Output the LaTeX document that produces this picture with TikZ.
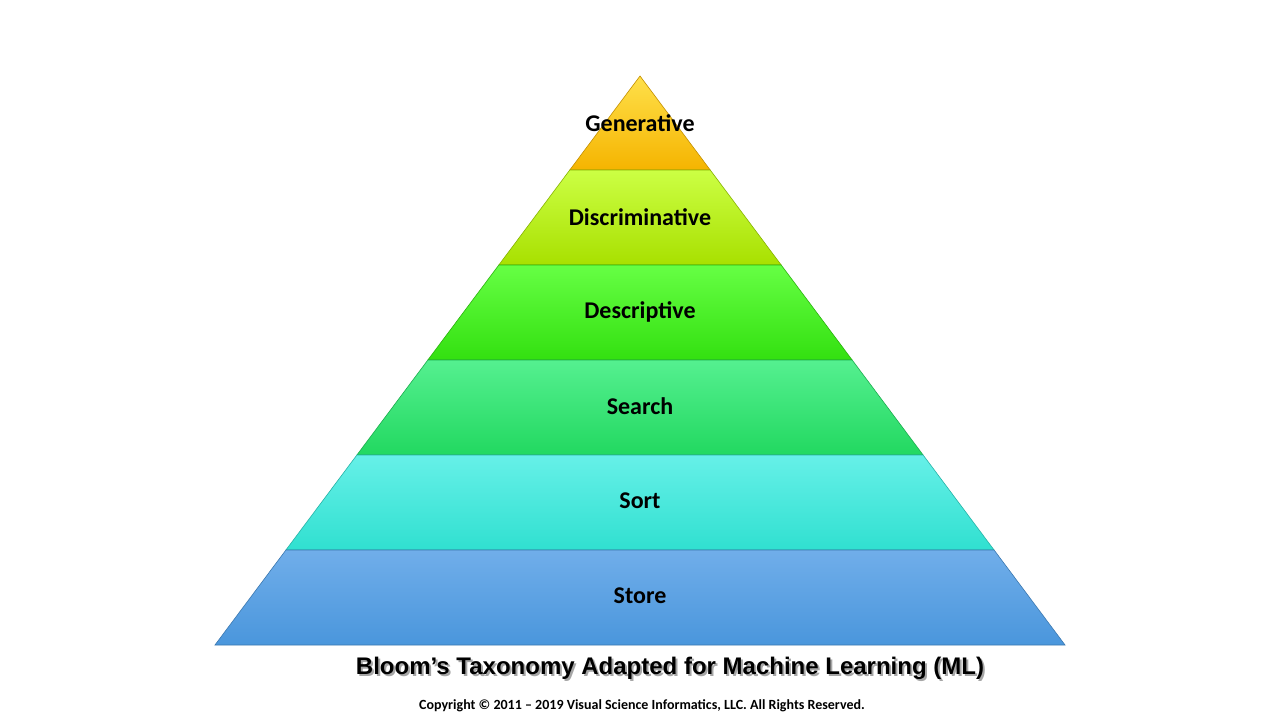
\documentclass[tikz,border=0pt]{standalone}
\usepackage{fontspec}
\setmainfont{Carlito}
\newfontfamily\titlefont{Liberation Sans}
\begin{document}
\begin{tikzpicture}[x=1pt,y=-1pt,
  lbl/.style={font=\bfseries\fontsize{24}{28}\selectfont, text=black}]
\useasboundingbox (0,0) rectangle (1280,720);
\fill[white] (0,0) rectangle (1280,720);
% layers: top y, bottom y, colours
\def\lay#1#2#3#4#5{%
  \pgfmathsetmacro\xa{640-0.747*(#1-76)}\pgfmathsetmacro\xb{640+0.747*(#1-76)}%
  \pgfmathsetmacro\xc{640+0.747*(#2-76)}\pgfmathsetmacro\xd{640-0.747*(#2-76)}%
  \shade[top color=#3, bottom color=#4, draw=#4!80!black, line width=0.6pt]
    (\xa,#1) -- (\xb,#1) -- (\xc,#2) -- (\xd,#2) -- cycle;
  \node[lbl] (#5) at (640,{(#1+#2)/2+2}) {};}
\definecolor{g1}{HTML}{FFE04A}\definecolor{g2}{HTML}{F5B400}
\definecolor{d1}{HTML}{CCFF44}\definecolor{d2}{HTML}{A8E000}
\definecolor{e1}{HTML}{66FF44}\definecolor{e2}{HTML}{33E010}
\definecolor{s1}{HTML}{55F090}\definecolor{s2}{HTML}{22D860}
\definecolor{o1}{HTML}{66F0E8}\definecolor{o2}{HTML}{30E0D0}
\definecolor{t1}{HTML}{70AEEA}\definecolor{t2}{HTML}{4A96DC}
\lay{76}{170}{g1}{g2}{gen}
\lay{170}{265}{d1}{d2}{dis}
\lay{265}{360}{e1}{e2}{des}
\lay{360}{455}{s1}{s2}{sea}
\lay{455}{550}{o1}{o2}{sor}
\lay{550}{645}{t1}{t2}{sto}
\node[lbl] (tgen) at (640,123) {Generative};
\node[lbl] (tdis) at (640,217) {Discriminative};
\node[lbl] (tdes) at (640,312) {Descriptive};
\node[lbl] (tsea) at (640,406) {Search};
\node[lbl] (tsor) at (640,501) {Sort};
\node[lbl] (tsto) at (640,596) {Store};
\node[font=\titlefont\bfseries\fontsize{24}{28}\selectfont, text=gray!70] (tsh) at (672,670) {Bloom’s Taxonomy Adapted for Machine Learning (ML)};
\node[font=\titlefont\bfseries\fontsize{24}{28}\selectfont, text=black] (title) at (670,668) {Bloom’s Taxonomy Adapted for Machine Learning (ML)};
\node[font=\bfseries\fontsize{14}{16}\selectfont] (copy) at (642,706) {Copyright © 2011 – 2019 Visual Science Informatics, LLC. All Rights Reserved.};
\end{tikzpicture}
\end{document}
